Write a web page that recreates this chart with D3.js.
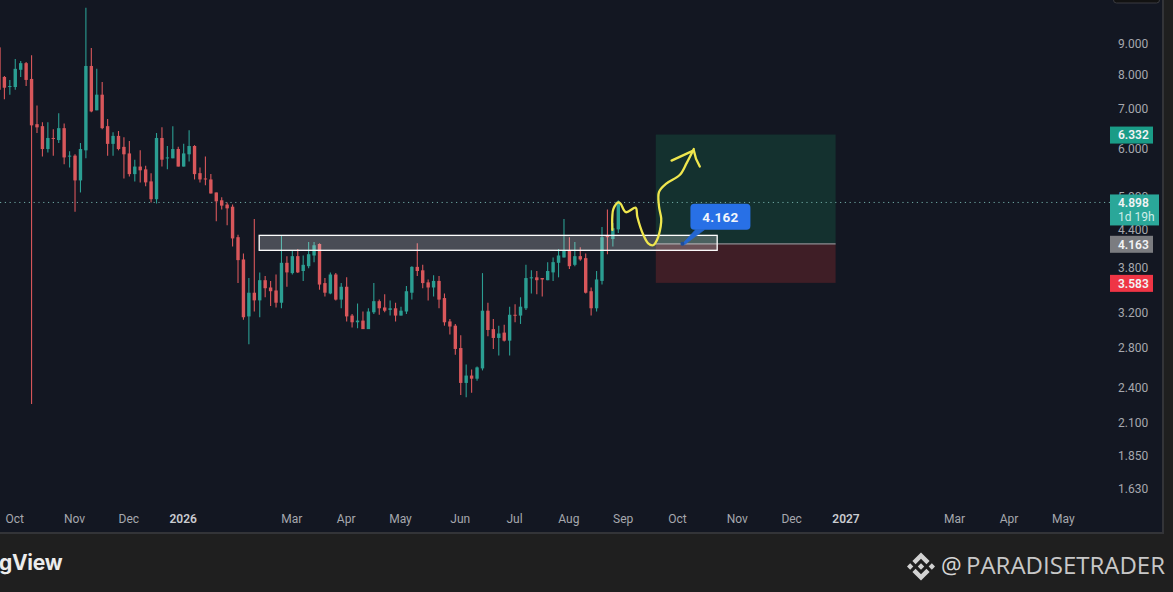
<!DOCTYPE html>
<html><head><meta charset="utf-8">
<script src="https://cdn.jsdelivr.net/npm/d3@7"></script>
<style>html,body{margin:0;padding:0;background:#1f1f1f}svg{display:block}</style>
</head><body><svg id="c" width="1173" height="592"></svg>
<script>
const firstIndex = -1;
const opens = [8.85,7.90,7.60,7.60,8.12,8.33,7.84,6.59,6.54,5.99,6.25,6.20,6.49,5.82,5.84,5.31,5.96,8.24,6.95,7.38,6.54,6.11,6.30,6.04,5.89,5.44,5.60,5.54,5.29,4.94,6.25,5.78,5.78,5.99,5.60,5.87,6.06,5.46,5.35,5.33,5.07,4.92,4.84,4.80,4.27,3.92,3.15,3.45,3.35,3.62,3.52,3.48,3.32,3.87,3.72,3.97,3.75,3.82,3.98,4.16,3.58,3.44,3.70,3.36,3.53,3.16,3.08,3.10,3.00,3.20,3.34,3.26,3.23,3.25,3.16,3.21,3.45,3.81,3.76,3.59,3.52,3.61,3.38,3.09,3.04,2.79,2.44,2.51,2.48,2.58,3.22,3.00,2.90,2.96,2.87,3.17,3.16,3.25,3.65,3.66,3.65,3.62,3.73,3.87,3.95,4.06,3.84,3.97,3.94,3.47,3.25,3.61,4.29,4.24,4.40];
const highs = [8.90,7.93,7.81,8.46,8.40,8.37,8.59,7.08,6.64,6.64,6.46,6.87,6.61,5.94,5.87,6.13,10.30,8.83,8.15,7.75,6.72,6.39,6.42,6.27,6.18,5.75,5.96,5.62,5.46,6.37,6.51,6.06,6.54,6.04,6.11,6.44,6.08,5.58,5.82,5.44,5.07,4.98,4.88,4.84,4.31,4.01,3.65,4.58,3.73,3.68,3.61,3.70,4.29,3.97,4.06,4.08,3.98,4.19,4.19,4.17,3.65,3.73,3.72,3.58,3.66,3.18,3.31,3.21,3.25,3.58,3.36,3.43,3.35,3.32,3.27,3.54,3.82,4.17,3.84,3.63,3.69,3.68,3.44,3.12,3.06,2.93,2.62,2.57,2.60,3.72,3.32,3.12,3.04,3.05,3.27,3.30,3.39,3.84,3.76,3.75,3.65,3.88,3.95,4.08,4.58,4.27,4.19,4.11,4.01,3.52,3.75,4.44,4.75,4.51,4.92];
const lows = [7.50,7.25,7.38,7.52,7.90,7.63,2.25,6.37,5.82,5.91,5.84,6.13,5.65,5.58,4.71,5.07,5.78,6.90,6.95,6.46,5.84,5.84,5.96,5.35,5.39,5.29,5.27,5.19,4.88,4.86,5.60,5.54,5.78,5.60,5.60,5.71,5.33,5.27,5.21,5.05,4.54,4.75,4.47,4.12,3.58,3.11,2.83,3.21,3.14,3.39,3.28,3.26,3.25,3.53,3.70,3.72,3.61,3.79,3.88,3.49,3.40,3.43,3.35,3.25,3.09,3.02,3.01,3.00,3.00,3.18,3.17,3.20,3.16,3.09,3.16,3.18,3.36,3.68,3.51,3.35,3.40,3.25,3.04,2.94,2.72,2.33,2.31,2.35,2.46,2.56,2.92,2.78,2.71,2.86,2.71,3.08,3.06,3.23,3.44,3.43,3.40,3.62,3.61,3.66,3.95,3.78,3.82,3.90,3.44,3.16,3.21,3.56,4.00,4.12,4.34];
const closes = [7.52,7.58,7.63,8.15,8.33,7.81,6.56,6.51,5.99,6.25,6.23,6.49,5.80,5.84,5.31,5.99,8.24,6.92,7.38,6.49,6.11,6.30,5.99,5.87,5.44,5.60,5.52,5.27,4.94,6.25,5.75,5.80,5.99,5.60,5.89,6.06,5.44,5.33,5.33,5.05,4.90,4.82,4.77,4.25,3.91,3.14,3.45,3.35,3.62,3.51,3.47,3.32,3.87,3.73,3.97,3.73,3.84,4.00,4.14,3.56,3.45,3.70,3.36,3.53,3.15,3.08,3.10,3.00,3.21,3.34,3.25,3.22,3.25,3.16,3.22,3.47,3.81,3.75,3.58,3.52,3.61,3.36,3.08,3.03,2.78,2.44,2.51,2.48,2.59,3.22,2.99,2.90,2.95,2.87,3.17,3.16,3.27,3.65,3.66,3.62,3.63,3.75,3.88,3.98,4.06,3.82,3.97,3.92,3.45,3.25,3.63,4.27,4.27,4.42,4.898];

const priceTicks = [9,8,7,6,5,4.4,3.8,3.2,2.8,2.4,2.1,1.85,1.63];
const monthIndex = [2,13,23,33,53,63,73,84,94,104,114,124,135,145,155,175,185,195];
const monthLabels = ["Oct","Nov","Dec","2026","Mar","Apr","May","Jun","Jul","Aug","Sep","Oct","Nov","Dec","2027","Mar","Apr","May"];
const yearLabels = ["2026","2027"];

const lastPrice = 4.898, countdown = "1d 19h";
const targetPrice = 6.332, entryPrice = 4.163, stopPrice = 3.583, calloutPrice = 4.162;
const zoneTop = 4.30, zoneBottom = 4.06, zoneStart = 46.9, zoneEnd = 131.2;
const positionStart = 119.9, positionEnd = 153;
const calloutIndex = 124.8;
const squiggleIndex = [111.9,111.9,112.1,113,113.4,114.4,116.2,116.5,117.6,118.5,119.4,120.1,120.8,120.9,120.5,120.5,121.9,124.3,125.6,126.9];
const squigglePrice = [4.39,4.62,4.76,4.88,4.86,4.70,4.78,4.62,4.31,4.17,4.14,4.22,4.45,4.59,4.80,5.08,5.25,5.42,5.68,5.99];
const arrowIndex = [122.8,126.9,127.3,128];
const arrowPrice = [5.73,5.96,5.77,5.60];

const UP = "#2b9e92", DOWN = "#d8575b";
const W = 1173, H = 592, paneR = 1162, paneB = 532, axisX = 1110;
const svg = d3.select("#c");
const font = "Roboto, 'Open Sans', sans-serif";

const x = d3.scaleLinear().domain([0,113]).range([4.4,618.3]);
const y = d3.scaleLog().domain([1.63,9]).range([488,43]);

svg.append("rect").attr("width",W).attr("height",H).attr("fill","#1f1f1f");
svg.append("rect").attr("x",0).attr("y",0).attr("width",paneR+2).attr("height",paneB+2).attr("fill","#333438");
svg.append("rect").attr("x",0).attr("y",0).attr("width",paneR).attr("height",paneB).attr("fill","#131722");
svg.append("rect").attr("x",1113.5).attr("y",-6).attr("width",46).attr("height",9).attr("rx",3)
  .attr("fill","#121212").attr("stroke","#3a3b40");

const defs = svg.append("defs");
defs.append("clipPath").attr("id","pane").append("rect").attr("width",axisX).attr("height",paneB);
const plot = svg.append("g").attr("clip-path","url(#pane)");

// long position tool
const px0 = x(positionStart), px1 = x(positionEnd);
plot.append("rect").attr("x",px0).attr("width",px1-px0).attr("y",y(targetPrice))
  .attr("height",y(entryPrice)-y(targetPrice)).attr("fill","#14312f");
plot.append("rect").attr("x",px0).attr("width",px1-px0).attr("y",y(entryPrice))
  .attr("height",y(stopPrice)-y(entryPrice)).attr("fill","#3f1e26");

// last price line
plot.append("line").attr("x1",0).attr("x2",axisX).attr("y1",y(lastPrice)+1).attr("y2",y(lastPrice)+1)
  .attr("stroke","#6fa8a3").attr("stroke-width",1).attr("stroke-dasharray","1.2 3.6");

// candles
const candles = opens.map((o,k)=>({i:firstIndex+k,o,h:highs[k],l:lows[k],c:closes[k]}));
const cg = plot.append("g").selectAll("g").data(candles).join("g");
cg.append("line").attr("x1",d=>x(d.i)).attr("x2",d=>x(d.i)).attr("y1",d=>y(d.h)).attr("y2",d=>y(d.l))
  .attr("stroke",d=>d.c>=d.o?UP:DOWN).attr("stroke-width",1.1);
cg.append("rect").attr("x",d=>x(d.i)-1.7).attr("width",3.4)
  .attr("y",d=>y(Math.max(d.o,d.c)))
  .attr("height",d=>Math.max(1,Math.abs(y(d.o)-y(d.c))))
  .attr("fill",d=>d.c>=d.o?UP:DOWN);

// entry line
plot.append("line").attr("x1",px0).attr("x2",px1).attr("y1",y(entryPrice)).attr("y2",y(entryPrice))
  .attr("stroke","#8b8d92").attr("stroke-width",1.2);

// resistance/support zone
plot.append("rect").attr("x",x(zoneStart)).attr("width",x(zoneEnd)-x(zoneStart))
  .attr("y",y(zoneTop)).attr("height",y(zoneBottom)-y(zoneTop))
  .attr("fill","#ffffff").attr("fill-opacity",0.23).attr("stroke","#ffffff").attr("stroke-width",1.3);

// callout 4.162
const cx = x(calloutIndex), cy = y(calloutPrice);
plot.append("path").attr("d",`M${cx},${cy} L${cx+13},${cy-14} L${cx+22},${cy-14} L${cx+2},${cy+1} Z`)
  .attr("fill","#2466d0").attr("stroke","#2466d0").attr("stroke-width",0.6);
plot.append("circle").attr("cx",cx).attr("cy",cy).attr("r",2).attr("fill","#1f4d9a");
plot.append("rect").attr("x",cx+8).attr("y",cy-40).attr("width",60).attr("height",26).attr("rx",4).attr("fill","#2870e6");
plot.append("text").attr("x",cx+38).attr("y",cy-27).attr("text-anchor","middle").attr("dy","0.36em")
  .attr("font-family",font).attr("font-weight",700).attr("font-size",13.5).attr("letter-spacing",0.3)
  .attr("fill","#f1f5fb").text(d3.format(".3f")(calloutPrice));

// yellow hand drawing
const pen = d3.line().curve(d3.curveCatmullRom.alpha(0.5)).x(d=>x(d[0])).y(d=>y(d[1]));
const penStyle = s => s.attr("fill","none").attr("stroke","#efe64e").attr("stroke-width",2.3)
  .attr("stroke-linecap","round").attr("stroke-linejoin","round");
plot.append("path").attr("d",pen(squiggleIndex.map((v,k)=>[v,squigglePrice[k]]))).call(penStyle);
plot.append("path").attr("d",d3.line().x(d=>x(d[0])).y(d=>y(d[1]))(arrowIndex.map((v,k)=>[v,arrowPrice[k]]))).call(penStyle);

// axes
const yAxis = d3.axisRight(y).tickValues(priceTicks).tickFormat(d3.format(".3f")).tickSize(0).tickPadding(0);
const ya = svg.append("g").attr("transform","translate(1118,0.5)").call(yAxis);
ya.select(".domain").remove();
ya.selectAll("text").attr("fill","#a6a8ae").attr("font-family",font).attr("font-size",12).attr("text-anchor","start");

const xAxis = d3.axisBottom(x).tickValues(monthIndex).tickFormat((d,k)=>monthLabels[k]).tickSize(0).tickPadding(0);
const xa = svg.append("g").attr("transform","translate(-1,514)").call(xAxis);
xa.select(".domain").remove();
xa.selectAll("text").attr("fill",(d,k)=>yearLabels.includes(monthLabels[k])?"#c9cbd0":"#a6a8ae")
  .attr("font-family",font).attr("font-size",12).attr("font-weight",(d,k)=>yearLabels.includes(monthLabels[k])?600:400);

// price labels
function tag(price,color,bw,extra){
  const yy = y(price)+0.5, hh = 17;
  const top = extra ? yy-7.5 : yy-hh/2;
  svg.append("rect").attr("x",axisX).attr("y",top).attr("width",bw).attr("height",extra?31:hh).attr("fill",color);
  svg.append("text").attr("x",1118).attr("y",top+8.5).attr("dy","0.36em").attr("fill","#f1f3f4")
    .attr("font-family",font).attr("font-size",12).attr("font-weight",600).text(d3.format(".3f")(price));
  if(extra) svg.append("text").attr("x",1118).attr("y",top+22.5).attr("dy","0.36em").attr("fill","#cfeee9")
    .attr("font-family",font).attr("font-size",12).text(extra);
}
tag(targetPrice,"#1a9c87",43);
tag(lastPrice,"#2aa799",49,countdown);
tag(entryPrice,"#7b7c80",43);
tag(stopPrice,"#ef3545",43);

// footer
svg.append("text").attr("x",-1).attr("y",570).attr("fill","#ececec").attr("font-family","Inter, Roboto, sans-serif")
  .attr("font-weight",700).attr("font-size",21).attr("letter-spacing",-0.3).text("gView");
const logo = svg.append("g").attr("transform","translate(907,552.5) scale(0.2212)").attr("fill","#d2d2d2");
["M38.73 53.2L63.32 28.62L87.93 53.22L102.24 38.91L63.32 0L24.42 38.9Z",
 "M0 63.31L14.3 49L28.61 63.31L14.31 77.61Z",
 "M63.31 48.97L77.83 63.3L63.32 77.82L48.8 63.33Z",
 "M98 63.31L112.31 49L126.61 63.31L112.31 77.61Z",
 "M38.73 73.41L24.41 87.7L63.32 126.61L102.24 87.7L87.92 73.41L63.32 98Z"]
 .forEach(p=>logo.append("path").attr("d",p));
svg.append("text").attr("x",941).attr("y",574).attr("fill","#d6d6d6").attr("font-family","'Open Sans', sans-serif")
  .attr("font-size",23).text("@");
svg.append("text").attr("x",966).attr("y",574).attr("fill","#c8c8c8").attr("font-family","'Open Sans', sans-serif")
  .attr("font-size",23).attr("textLength",199).attr("lengthAdjust","spacingAndGlyphs").text("PARADISETRADER");
</script></body></html>
